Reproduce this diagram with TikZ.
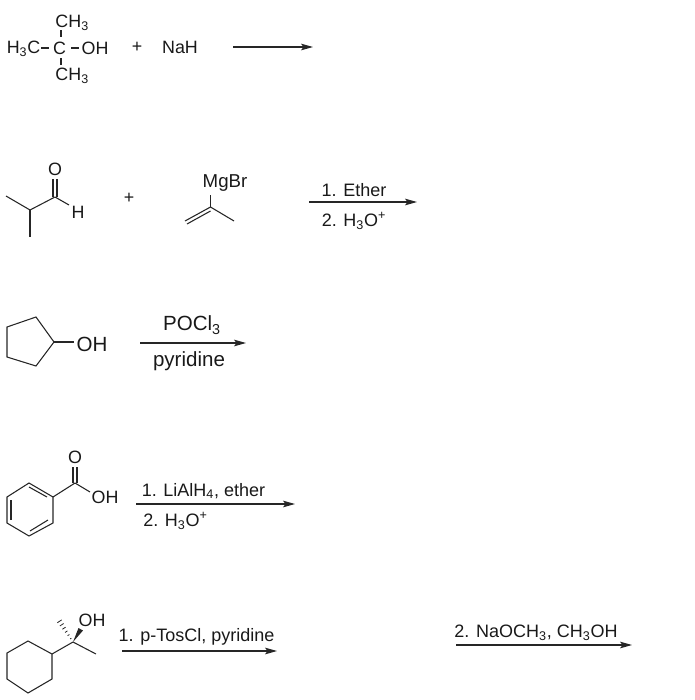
\documentclass[tikz,border=0pt]{standalone}
\usepackage{fontspec}
\setmainfont{Liberation Sans}
\usetikzlibrary{arrows.meta,calc}
\begin{document}
\begin{tikzpicture} [x=0.75pt, y=-0.75pt, line width=0.8pt, black!85, >={Stealth[length=9pt,width=5pt,inset=2pt]}, node distance=19pt]
	\tikzset{atom/.style={inner sep=0pt, text=black!90, font=\fontsize{13.4}{16}\selectfont}}
	\tikzset{reagent/.style={inner sep=0pt, text=black!90, font=\fontsize{13.5}{16}\selectfont}}
	\tikzset{bigatom/.style={inner sep=0pt, text=black!90, font=\fontsize{15.4}{18}\selectfont}}
	\useasboundingbox (0,0) rectangle (694,700);

	% tert-butanol + NaH
	\node[atom]		(c1)	at (59.5,48)			{C};
	\node[atom]		(me1)	[above of=c1, xshift=9.5pt]	{CH\textsubscript{3}};
	\node[atom]		(me2)	[below of=c1, xshift=9.5pt, yshift=-2pt]	{CH\textsubscript{3}};
	\node[atom]		(me3)	at (23.5,49)			{H\textsubscript{3}C};
	\node[atom]		(oh1)	at (95,48)				{OH};
	\node[atom]		(plus1)	at (137,47)				{+};
	\node[atom]		(nah)	at (180,47)				{NaH};
	\coordinate		(a1s)	at (233,47);
	\coordinate		(a1e)	at (313,47);
	\coordinate		(b1a)	at (61,30);
	\coordinate		(b1b)	at (61,37);
	\coordinate		(b1c)	at (61,58);
	\coordinate		(b1d)	at (61,65);
	\coordinate		(b1e)	at (41,48);
	\coordinate		(b1f)	at (49,48);
	\coordinate		(b1g)	at (71,48);
	\coordinate		(b1h)	at (79,48);
	\path
		(b1a) edge (b1b)
		(b1c) edge (b1d)
		(b1e) edge (b1f)
		(b1g) edge (b1h)
		(a1s) edge[->] (a1e)
		;

	% aldehyde + vinyl Grignard
	\node[atom]		(o2)	at (55,169)				{O};
	\node[atom]		(h2)	at (78,212)				{H};
	\coordinate		(c2)	at (55,197);
	\coordinate		(ch2)	at (30,210);
	\coordinate		(me4)	at (6,196);
	\coordinate		(me5)	at (30,237);
	\coordinate		(o2a)	at (53,179);
	\coordinate		(o2b)	at (57,179);
	\coordinate		(c2a)	at (53,197);
	\coordinate		(c2b)	at (57,197);
	\coordinate		(h2a)	at (69,205);
	\path
		(me4) edge (ch2)
		(ch2) edge (me5)
		(ch2) edge (c2)
		(c2) edge (h2a)
		(c2a) edge (o2a)
		(c2b) edge (o2b)
		;
	\node[atom]		(plus2)	at (129,198)			{+};
	\node[reagent]	(mgbr)	at (225,183)			{\fontsize{14}{16}\selectfont MgBr};
	\coordinate		(c3)	at (210.5,207);
	\coordinate		(c3up)	at (210.5,195);
	\coordinate		(me6)	at (234,221);
	\coordinate		(ch3a)	at (185,221);
	\coordinate		(c3b)	at (210.5,211);
	\coordinate		(ch3b)	at (187,224);
	\path
		(c3) edge (c3up)
		(c3) edge (me6)
		(c3) edge (ch3a)
		(c3b) edge (ch3b)
		;
	\coordinate		(a2s)	at (309,202);
	\coordinate		(a2e)	at (417,202);
	\node[reagent]	(r2a)	at (354,190)			{1. Ether};
	\node[reagent]	(r2b)	at (354,221)			{2. H\textsubscript{3}O\textsuperscript{+}};
	\path (a2s) edge[->] (a2e);

	% cyclopentanol
	\coordinate		(p1)	at (7,327);
	\coordinate		(p2)	at (36,317);
	\coordinate		(p3)	at (54,342);
	\coordinate		(p4)	at (36,366);
	\coordinate		(p5)	at (7,357);
	\draw (p1) -- (p2) -- (p3) -- (p4) -- (p5) -- cycle;
	\node[bigatom]	(oh3)	at (92,344)				{OH};
	\coordinate		(p3a)	at (74,342);
	\path (p3) edge (p3a);
	\coordinate		(a3s)	at (140,343);
	\coordinate		(a3e)	at (246,343);
	\node[bigatom]	(r3a)	at (192,325)			{POCl\textsubscript{3}};
	\node[bigatom]	(r3b)	at (189,361)			{pyridine};
	\path (a3s) edge[->] (a3e);

	% benzoic acid
	\coordinate		(b1)	at (29,483);
	\coordinate		(b2)	at (53,497);
	\coordinate		(b3)	at (53,523);
	\coordinate		(b4)	at (29,536);
	\coordinate		(b5)	at (7,523);
	\coordinate		(b6)	at (7,497);
	\draw (b1) -- (b2) -- (b3) -- (b4) -- (b5) -- (b6) -- cycle;
	\coordinate		(i1)	at (29,487);
	\coordinate		(i2)	at (47,497);
	\coordinate		(i3)	at (48,520);
	\coordinate		(i4)	at (30,531);
	\coordinate		(i5)	at (11,520);
	\coordinate		(i6)	at (11,500);
	\coordinate		(c4)	at (75,483);
	\coordinate		(c4a)	at (73,483);
	\coordinate		(c4b)	at (77,483);
	\coordinate		(o4a)	at (73,467);
	\coordinate		(o4b)	at (77,467);
	\coordinate		(oh4a)	at (90,492);
	\node[atom]		(o4)	at (75,457)				{O};
	\node[atom]		(oh4)	at (105,497)			{OH};
	\path
		(i1) edge (i2)
		(i3) edge (i4)
		(i5) edge (i6)
		(b2) edge (c4)
		(c4) edge (oh4a)
		(c4a) edge (o4a)
		(c4b) edge (o4b)
		;
	\coordinate		(a4s)	at (136,504);
	\coordinate		(a4e)	at (295,504);
	\node[reagent]	(r4a)	at (203.5,491)			{1. LiAlH\textsubscript{4}, ether};
	\node[reagent]	(r4b)	at (175.5,521)			{2. H\textsubscript{3}O\textsuperscript{+}};
	\path (a4s) edge[->] (a4e);

	% cyclohexyl alcohol
	\coordinate		(h1)	at (28,641);
	\coordinate		(h2x)	at (52,654);
	\coordinate		(h3)	at (52,679);
	\coordinate		(h4)	at (28,693);
	\coordinate		(h5)	at (7,679);
	\coordinate		(h6)	at (7,653);
	\draw (h1) -- (h2x) -- (h3) -- (h4) -- (h5) -- (h6) -- cycle;
	\coordinate		(c5)	at (73,642);
	\coordinate		(me7)	at (96,654);
	\coordinate		(me8)	at (58,619);
	\coordinate		(wa)	at (78.5,628);
	\coordinate		(wb)	at (83,630.5);
	\node[atom]		(oh5)	at (92,620)				{OH};
	\fill (c5) -- (wa) -- (wb) -- cycle;
	\path
		(h2x) edge (c5)
		(c5) edge (me7)
		;
	\foreach \t/\w in {0.15/0.5pt,0.3/0.8pt,0.45/1.1pt,0.6/1.4pt,0.75/1.7pt,0.9/2pt,1/2.3pt} {
		\coordinate (hs) at ($(c5)!\t!(me8)$);
		\draw[line width=0.6pt] ($(hs)!\w!90:(me8)$) -- ($(hs)!\w!-90:(me8)$);
	}
	\coordinate		(a5s)	at (122,651);
	\coordinate		(a5e)	at (277,651);
	\node[reagent]	(r5a)	at (196.5,637)			{1. p-TosCl, pyridine};
	\coordinate		(a6s)	at (456,645);
	\coordinate		(a6e)	at (632,645);
	\node[reagent]	(r6a)	at (536,633)			{2. NaOCH\textsubscript{3}, CH\textsubscript{3}OH};
	\path
		(a5s) edge[->] (a5e)
		(a6s) edge[->] (a6e)
		;
\end{tikzpicture}
\end{document}
